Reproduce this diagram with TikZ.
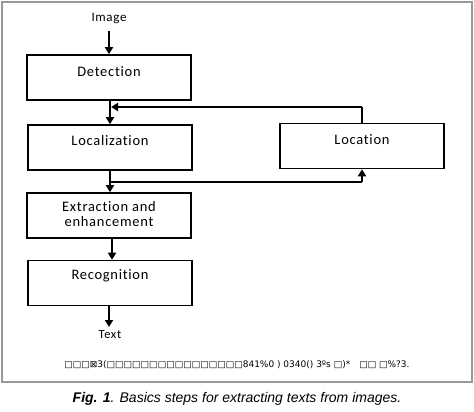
\documentclass[tikz,border=0pt]{standalone}
\usepackage{fontspec}
\setmainfont{Carlito}[Ligatures=NoCommon,LetterSpace=5]
\newfontfamily\capfont{Liberation Sans}
\newfontfamily\junkfont{DejaVu Sans}
\usetikzlibrary{arrows.meta}
\begin{document}
\begin{tikzpicture}[x=1pt,y=-1pt,
  stage/.style={draw=black,line width=1.6pt,minimum width=164pt,minimum height=45pt,inner sep=0pt},
  lbl/.style={font=\fontsize{14.5}{16}\selectfont,align=center},
  flow/.style={line width=2pt,-{Triangle[width=8pt,length=7pt]}},
  link/.style={line width=2pt}]
\useasboundingbox (0,0) rectangle (474,412);
\draw[draw=gray!80,line width=2.5pt] (2,2) rectangle (472,382);
\node[stage] (det) at (109,77.5) {};
\node[lbl] at (109,72) {Detection};
\node[stage] (loc) at (110,147.5) {};
\node[lbl] at (110,141) {Localization};
\node[stage] (lct) at (362,146) {};
\node[lbl] at (362,140) {Location};
\node[stage] (ext) at (109,215.5) {};
\node[lbl,font=\fontsize{14.5}{15}\selectfont] at (109,214) {Extraction and\\enhancement};
\node[stage] (rec) at (110,283) {};
\node[lbl] at (110,276) {Recognition};
\node[font=\fontsize{13}{15}\selectfont] (img) at (109,18) {Image};
\node[font=\fontsize{12.5}{15}\selectfont] (txt) at (110,335) {Text};
\coordinate (imgb) at (109,31);
\coordinate (txtt) at (109,327);
\coordinate (fbtop) at (362,107);
\coordinate (fbl) at (110,107);
\coordinate (split) at (110,182);
\coordinate (spr) at (362,182);
\draw[flow] (imgb) -- (det.north);
\draw[flow] (det.south -| 110,0) -- (loc.north);
\draw[link] (lct.north) -- (fbtop);
\draw[flow] (fbtop) -- ([xshift=1pt]fbl);
\draw[flow] (loc.south) -- (ext.north -| loc.south);
\draw[link] (split) -- (spr);
\draw[flow] (spr) -- (lct.south);
\draw[flow] (ext.south -| 112,0) -- (rec.north -| 112,0);
\draw[flow] (rec.south -| 109,0) -- (txtt);
\node[font=\junkfont\fontsize{9}{10}\selectfont] (junk) at (237,365) {□□□⊠3(□□□□□□□□□□□□□□□□841\%0 ) 0340() 3ºs □)*\quad □□ □\%?3.};
\node[font=\capfont\itshape\fontsize{14}{16}\selectfont] (cap) at (237,399) {\textbf{Fig. 1}. Basics steps for extracting texts from images.};
\end{tikzpicture}
\end{document}
